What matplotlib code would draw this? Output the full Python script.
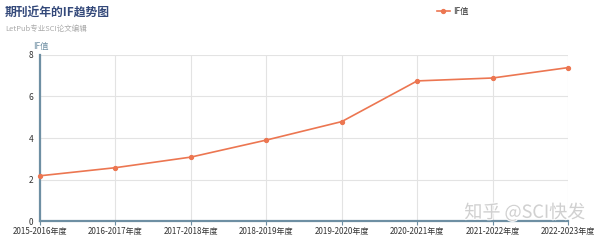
import matplotlib

matplotlib.use("Agg")
import matplotlib.pyplot as plt
import matplotlib.patheffects as pe

plt.rcParams["font.family"] = ["Noto Sans CJK SC", "DejaVu Sans"]

# data
years = [
    "2015-2016年度", "2016-2017年度", "2017-2018年度", "2018-2019年度",
    "2019-2020年度", "2020-2021年度", "2021-2022年度", "2022-2023年度",
]
if_values = [2.18, 2.57, 3.08, 3.90, 4.79, 6.75, 6.89, 7.39]
y_ticks = [0, 2, 4, 6, 8]

LINE_COLOR = "#EC7651"
AXIS_COLOR = "#6E8FA3"
GRID_COLOR = "#E3E3E3"

fig = plt.figure(figsize=(6.0, 2.4), dpi=100)
ax = fig.add_axes([0.0667, 0.079, 0.88, 0.692])

x = list(range(len(years)))
ax.plot(x, if_values, color=LINE_COLOR, lw=1.2, marker="o", markersize=2.8,
        label="IF值", zorder=3, clip_on=False)

ax.set_xlim(0, len(years) - 1)
ax.set_ylim(0, 8)
ax.set_xticks(x)
ax.set_xticklabels(years)
ax.set_yticks(y_ticks)
ax.grid(True, color=GRID_COLOR, lw=0.8)
ax.set_axisbelow(True)

for side in ("top", "right"):
    ax.spines[side].set_visible(False)
for side in ("left", "bottom"):
    ax.spines[side].set_color(AXIS_COLOR)
    ax.spines[side].set_linewidth(1.6)

ax.tick_params(axis="x", length=3, color=AXIS_COLOR, labelsize=5.8,
               labelcolor="#333333", pad=1.5)
ax.tick_params(axis="y", length=0, labelsize=6.0, labelcolor="#333333", pad=5)

fig.text(0.008, 0.945, "期刊近年的IF趋势图", fontsize=8.5, fontweight="bold",
         color="#34497A", ha="left", va="center")
fig.text(0.008, 0.88, "LetPub专业SCI论文编辑", fontsize=5.4, color="#AAAAAA",
         ha="left", va="center")
fig.text(0.056, 0.805, "IF值", fontsize=6, color=AXIS_COLOR, ha="left", va="center")

leg = fig.legend(loc="center left", bbox_to_anchor=(0.715, 0.953), frameon=False,
                 fontsize=6.0, handlelength=1.6, handletextpad=0.4)
for txt in leg.get_texts():
    txt.set_color("#333333")

fig.text(0.975, 0.115, "知乎 @SCI快发", fontsize=13, color="#CCCCCC", ha="right",
         va="center", alpha=0.9,
         path_effects=[pe.withStroke(linewidth=1.5, foreground="white")])

fig.savefig("out.png", dpi=100)
